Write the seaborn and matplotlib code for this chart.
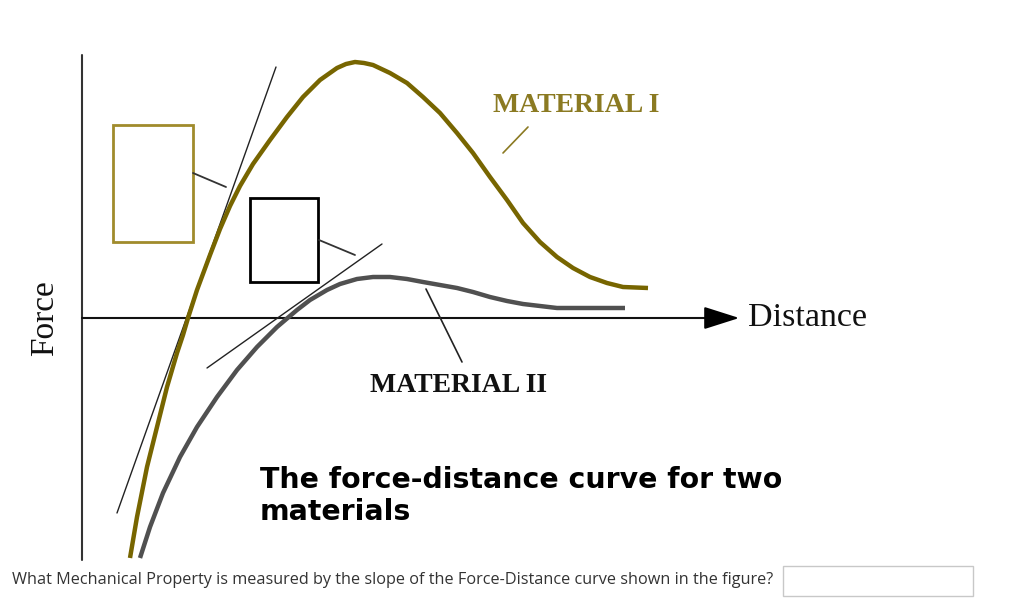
import numpy as np
import pandas as pd
import seaborn as sns
import matplotlib.pyplot as plt
from matplotlib.patches import Rectangle

# curve points (image pixel coords, y grows downward)
mat1_x = [130, 137, 147, 157, 167, 177, 183, 188, 197, 210, 220, 230, 240, 253, 270,
          287, 303, 320, 337, 346, 355, 364, 373, 390, 407, 423, 440, 457, 473, 490,
          507, 523, 540, 557, 573, 590, 607, 623, 648]
mat1_y = [558, 517, 467, 427, 387, 353, 335, 318, 290, 255, 229, 206, 186, 164, 140,
          117, 97, 80, 68, 64, 62, 63, 65, 73, 83, 97, 113, 133, 153, 177,
          200, 223, 242, 257, 268, 277, 283, 287, 288]
mat2_x = [140, 150, 163, 180, 197, 217, 237, 257, 277, 297, 310, 327, 340, 357, 373,
          390, 407, 423, 440, 457, 473, 490, 507, 523, 540, 557, 573, 590, 607, 625]
mat2_y = [558, 527, 493, 457, 427, 397, 370, 347, 327, 310, 300, 290, 284, 279, 277,
          277, 279, 282, 285, 288, 292, 297, 301, 304, 306, 308, 308, 308, 308, 308]

# tangent lines (end points)
tan1_x = [117, 276]
tan1_y = [513, 67]
tan2_x = [207, 382]
tan2_y = [368, 244]

df1 = pd.DataFrame({"x": mat1_x, "y": mat1_y})
df2 = pd.DataFrame({"x": mat2_x, "y": mat2_y})

sns.set_style("white")
fig = plt.figure(figsize=(10.24, 6.15), dpi=100)
ax = fig.add_axes([0, 0, 1, 1])

olive = "#776500"
box_olive = "#a08b2c"
gray = "#505050"

# axes of the sketch
ax.plot([82, 82], [55, 560], color="#333333", lw=1.5)
ax.plot([82, 715], [318, 318], color="#111111", lw=1.5)
ax.annotate("", xy=(742, 318), xytext=(705, 318),
            arrowprops=dict(arrowstyle="-|>,head_length=1.1,head_width=0.35",
                            color="black", lw=1.5, mutation_scale=20))

# tangents
ax.plot(tan1_x, tan1_y, color="#222222", lw=1)
ax.plot(tan2_x, tan2_y, color="#222222", lw=1)

# curves
sns.lineplot(data=df2, x="x", y="y", sort=False, color=gray, lw=3.2, ax=ax,
             solid_joinstyle="round", solid_capstyle="butt")
sns.lineplot(data=df1, x="x", y="y", sort=False, color=olive, lw=3.2, ax=ax,
             solid_joinstyle="round", solid_capstyle="butt")
ax.set_xlim(0, 1024)
ax.set_ylim(615, 0)
ax.axis("off")

# empty answer boxes with connectors
ax.add_patch(Rectangle((113, 125), 80, 117, fill=False, ec=box_olive, lw=2))
ax.plot([193, 226], [173, 187], color="#333333", lw=1.3)
ax.add_patch(Rectangle((250, 198), 68, 84, fill=False, ec="black", lw=2))
ax.plot([319, 355], [240, 255], color="#333333", lw=1.3)

# labels
serif = ["Liberation Serif", "DejaVu Serif"]
ax.text(493, 106, "MATERIAL I", family=serif, weight="bold", fontsize=20,
        color="#8b7a22", va="center", ha="left")
ax.plot([528, 503], [127, 153], color="#8b7a22", lw=1.2)
ax.text(370, 385, "MATERIAL II", family=serif, weight="bold", fontsize=20,
        color="#111111", va="center", ha="left")
ax.plot([426, 462], [289, 362], color="#222222", lw=1.2)
ax.text(748, 318, "Distance", family=serif, fontsize=24.5, color="#111111",
        va="center", ha="left")
ax.text(45, 318, "Force", family=serif, fontsize=24, color="#111111",
        va="center", ha="center", rotation=90)

ax.text(260, 496, "The force-distance curve for two\nmaterials", family="DejaVu Sans",
        weight="bold", fontsize=20.4, color="black", va="center", ha="left",
        linespacing=1.2)

ax.text(12, 580, "What Mechanical Property is measured by the slope of the "
        "Force-Distance curve shown in the figure?", family="Open Sans",
        fontsize=11.7, color="#333333", va="center", ha="left")
ax.add_patch(Rectangle((783, 566), 190, 30, fill=False, ec="#c8c8c8", lw=1))

fig.savefig("out.png", dpi=100)
